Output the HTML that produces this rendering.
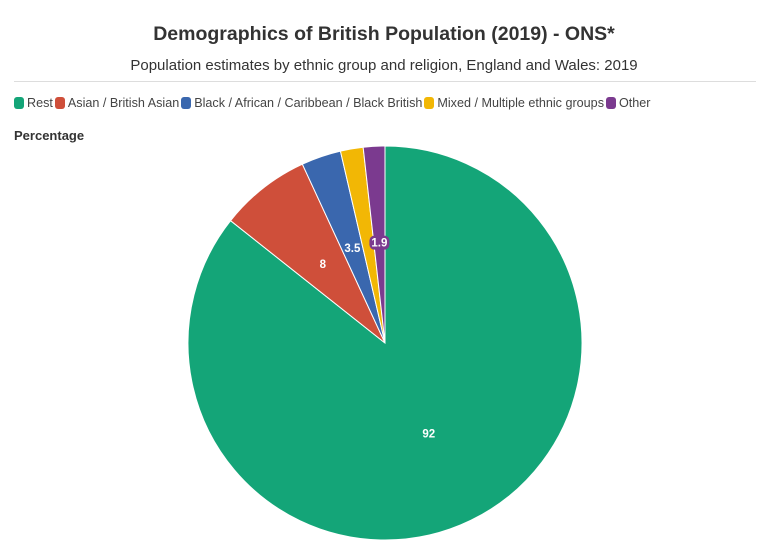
<!DOCTYPE html>
<html><head><meta charset="utf-8"><style>
body{margin:0;background:#fff;font-family:"Liberation Sans",sans-serif;}
#wrap{position:relative;width:768px;height:552px;overflow:hidden;background:#fff;}
.title{position:absolute;top:23px;left:0;width:768px;text-align:center;font-size:19.5px;font-weight:bold;color:#333;}
.sub{position:absolute;top:57px;left:0;width:768px;text-align:center;font-size:15px;color:#333;}
.sep{position:absolute;top:81px;left:14px;width:742px;height:1px;background:#ddd;}
.legend{position:absolute;top:96px;left:14px;font-size:12.6px;color:#444;white-space:nowrap;}
.li{display:inline-block;margin-right:2px;}
.sw{display:inline-block;width:10px;height:12px;border-radius:3px;vertical-align:-2px;margin-right:3px;}
.ytitle{position:absolute;top:128px;left:14px;font-size:13px;font-weight:bold;color:#333;}
</style></head><body>
<div id="wrap">
<div class="title">Demographics of British Population (2019) - ONS*</div>
<div class="sub">Population estimates by ethnic group and religion, England and Wales: 2019</div>
<div class="sep"></div>
<div class="legend" id="legend"></div>
<div class="ytitle">Percentage</div>
<svg id="pie" width="768" height="552" style="position:absolute;left:0;top:0"></svg>
</div>
<script>
const categories=["Rest","Asian / British Asian","Black / African / Caribbean / Black British","Mixed / Multiple ethnic groups","Other"];
const values=[92,8,3.5,2.0,1.9];
const labels=["92","8","3.5","","1.9"];
const colors=["#14a578","#cf4f3a","#3a67ae","#f2b705","#7b3a8f"];
const ns="http://www.w3.org/2000/svg";
const svg=document.getElementById('pie');
const cx=385,cy=343,r=197;
const total=values.reduce((a,b)=>a+b,0);
let a0=0;
function pt(a,rad){return [cx+rad*Math.sin(a),cy-rad*Math.cos(a)];}
values.forEach((v,i)=>{
  const a1=a0+v/total*2*Math.PI;
  const p0=pt(a0,r),p1=pt(a1,r);
  const large=(a1-a0)>Math.PI?1:0;
  const path=document.createElementNS(ns,'path');
  path.setAttribute('d',`M${cx},${cy}L${p0[0]},${p0[1]}A${r},${r} 0 ${large} 1 ${p1[0]},${p1[1]}Z`);
  path.setAttribute('fill',colors[i]);
  path.setAttribute('stroke','#fff');
  path.setAttribute('stroke-width','1');
  
  
  svg.appendChild(path);
  a0=a1;
});
a0=0;
values.forEach((v,i)=>{
  const a1=a0+v/total*2*Math.PI;
  const m=(a0+a1)/2;a0=a1;
  if(!labels[i])return;
  const p=pt(m,r*0.51);
  if(i===values.length-1){
    const bg=document.createElementNS(ns,'rect');
    bg.setAttribute('x',p[0]-10);bg.setAttribute('y',p[1]-7);
    bg.setAttribute('width',20);bg.setAttribute('height',14);
    bg.setAttribute('rx',5);bg.setAttribute('fill',colors[i]);
    
    
    svg.appendChild(bg);
  }
  const t=document.createElementNS(ns,'text');
  t.setAttribute('x',p[0]);t.setAttribute('y',p[1]+4);
  t.setAttribute('text-anchor','middle');
  t.setAttribute('font-size','11.5');t.setAttribute('font-weight','bold');
  t.setAttribute('fill','#fff');
  t.setAttribute('font-family','Liberation Sans, sans-serif');
  t.textContent=labels[i];
  
  
  svg.appendChild(t);
});
const lg=document.getElementById('legend');
categories.forEach((c,i)=>{
  const s=document.createElement('span');s.className='li';
  
  
  s.innerHTML=`<span class="sw" style="background:${colors[i]}"></span>${c}`;
  lg.appendChild(s);
});
</script>
</body></html>
